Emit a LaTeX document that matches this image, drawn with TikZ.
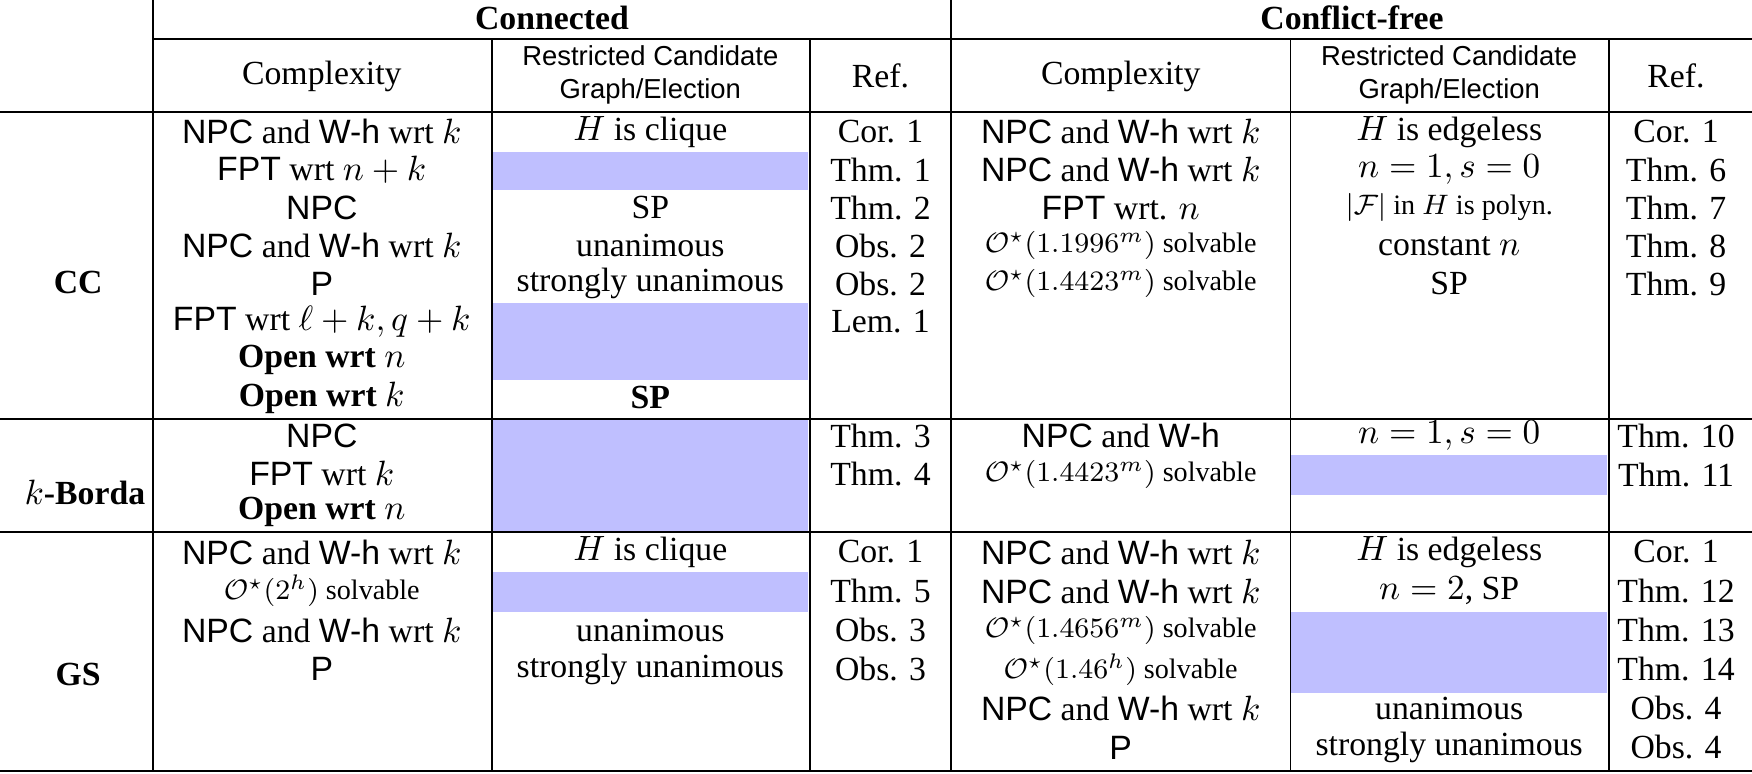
\documentclass[tikz,border=0pt]{standalone}
\usepackage{amsmath,amssymb}
\usepackage{fontspec}
\setmainfont{Liberation Serif}
\setsansfont{Liberation Sans}
\usetikzlibrary{positioning,calc}
\definecolor{shade}{RGB}{191,191,255}
\newcommand{\npc}{\textsf{NPC}}
\newcommand{\wh}{\textsf{W-h}}
\newcommand{\fpt}{\textsf{FPT}}
\newcommand{\polyP}{\textsf{P}}
\newcommand{\Ostar}{\mathcal{O}^\star}
% one table line: y, then three cells at the three x positions
\newcommand{\tline}[7]{%
  \node[cell] at (#2,#1) {#5};
  \node[cell] at (#3,#1) {#6};
  \node[cell] at (#4,#1) {#7};}
\begin{document}
\begin{tikzpicture}[x=0.01117cm,y=-0.01117cm,
    cell/.style={inner sep=0pt, font=\fontsize{9.6}{11.5}\selectfont},
    head/.style={inner sep=0pt, font=\fontsize{7.8}{9.3}\selectfont\sffamily, align=center},
    rule/.style={line width=0.5pt},
    shadebox/.style={fill=shade, draw=none}
  ]
  \useasboundingbox (0,0) rectangle (1568,692);

  % shaded cells
  \fill[shadebox] (440,136) rectangle (723,170);
  \fill[shadebox] (440,271) rectangle (723,340);
  \fill[shadebox] (440,376) rectangle (723,476);
  \fill[shadebox] (440,512) rectangle (723,548);
  \fill[shadebox] (1155,407) rectangle (1438,443);
  \fill[shadebox] (1155,548) rectangle (1438,620);

  % rules
  \draw[rule] (137,0) -- (137,690);
  \draw[rule] (851,0) -- (851,690);
  \foreach \xv in {440,725,1155,1440}
    \draw[rule] (\xv,35) -- (\xv,690);
  \draw[rule] (137,35) -- (1568,35);
  \draw[rule] (0,100) -- (1568,100);
  \draw[rule] (0,375) -- (1568,375);
  \draw[rule] (0,476) -- (1568,476);
  \draw[rule] (0,690) -- (1568,690);

  % headers
  \node[cell, font=\fontsize{9.6}{11.5}\selectfont\bfseries] (hcon) at (494,16) {Connected};
  \node[cell, font=\fontsize{9.6}{11.5}\selectfont\bfseries] (hcf) at (1210,16) {Conflict-free};
  \node[cell] (hc1) at (288,68) {Complexity};
  \node[head] (hr1) at (582,67) {Restricted Candidate\\Graph/Election};
  \node[cell] (hf1) at (788,68) {Ref.};
  \node[cell] (hc2) at (1003,68) {Complexity};
  \node[head] (hr2) at (1297,67) {Restricted Candidate\\Graph/Election};
  \node[cell] (hf2) at (1500,68) {Ref.};

  % row labels
  \node[cell, font=\fontsize{9.6}{11.5}\selectfont\bfseries] (cc) at (70,253) {CC};
  \node[cell, font=\fontsize{9.6}{11.5}\selectfont\bfseries] (kb) at (76,441) {$k$-Borda};
  \node[cell, font=\fontsize{9.6}{11.5}\selectfont\bfseries] (gs) at (70,604) {GS};

  % CC, connected
  \tline{118}{288}{582}{788}{\npc{} and \wh{} wrt $k$}{$H$ is clique}{Cor. 1}
  \tline{152}{288}{582}{788}{\fpt{} wrt $n+k$}{}{Thm. 1}
  \tline{186}{288}{582}{788}{\npc}{SP}{Thm. 2}
  \tline{220}{288}{582}{788}{\npc{} and \wh{} wrt $k$}{unanimous}{Obs. 2}
  \tline{254}{288}{582}{788}{\polyP}{strongly unanimous}{Obs. 2}
  \tline{288}{288}{582}{788}{\fpt{} wrt $\ell+k, q+k$}{}{Lem. 1}
  \tline{322}{288}{582}{788}{\textbf{Open wrt} $n$}{}{}
  \tline{356}{288}{582}{788}{\textbf{Open wrt} $k$}{\textbf{SP}}{}
  % CC, conflict-free
  \tline{118}{1003}{1297}{1500}{\npc{} and \wh{} wrt $k$}{$H$ is edgeless}{Cor. 1}
  \tline{152}{1003}{1297}{1500}{\npc{} and \wh{} wrt $k$}{$n=1, s=0$}{Thm. 6}
  \tline{186}{1003}{1297}{1500}{\fpt{} wrt. $n$}{\footnotesize$|\mathcal{F}|$ in $H$ is polyn.}{Thm. 7}
  \tline{220}{1003}{1297}{1500}{\footnotesize$\Ostar(1.1996^m)$ solvable}{constant $n$}{Thm. 8}
  \tline{254}{1003}{1297}{1500}{\footnotesize$\Ostar(1.4423^m)$ solvable}{SP}{Thm. 9}

  % k-Borda
  \tline{390}{288}{582}{788}{\npc}{}{Thm. 3}
  \tline{424}{288}{582}{788}{\fpt{} wrt $k$}{}{Thm. 4}
  \tline{458}{288}{582}{788}{\textbf{Open wrt} $n$}{}{}
  \tline{390}{1003}{1297}{1500}{\npc{} and \wh}{$n=1, s=0$}{Thm. 10}
  \tline{425}{1003}{1297}{1500}{\footnotesize$\Ostar(1.4423^m)$ solvable}{}{Thm. 11}

  % GS, connected
  \tline{494}{288}{582}{788}{\npc{} and \wh{} wrt $k$}{$H$ is clique}{Cor. 1}
  \tline{529}{288}{582}{788}{\footnotesize$\Ostar(2^h)$ solvable}{}{Thm. 5}
  \tline{564}{288}{582}{788}{\npc{} and \wh{} wrt $k$}{unanimous}{Obs. 3}
  \tline{599}{288}{582}{788}{\polyP}{strongly unanimous}{Obs. 3}
  % GS, conflict-free
  \tline{494}{1003}{1297}{1500}{\npc{} and \wh{} wrt $k$}{$H$ is edgeless}{Cor. 1}
  \tline{529}{1003}{1297}{1500}{\npc{} and \wh{} wrt $k$}{$n=2$, SP}{Thm. 12}
  \tline{564}{1003}{1297}{1500}{\footnotesize$\Ostar(1.4656^m)$ solvable}{}{Thm. 13}
  \tline{599}{1003}{1297}{1500}{\footnotesize$\Ostar(1.46^h)$ solvable}{}{Thm. 14}
  \tline{634}{1003}{1297}{1500}{\npc{} and \wh{} wrt $k$}{unanimous}{Obs. 4}
  \tline{669}{1003}{1297}{1500}{\polyP}{strongly unanimous}{Obs. 4}
\end{tikzpicture}
\end{document}
